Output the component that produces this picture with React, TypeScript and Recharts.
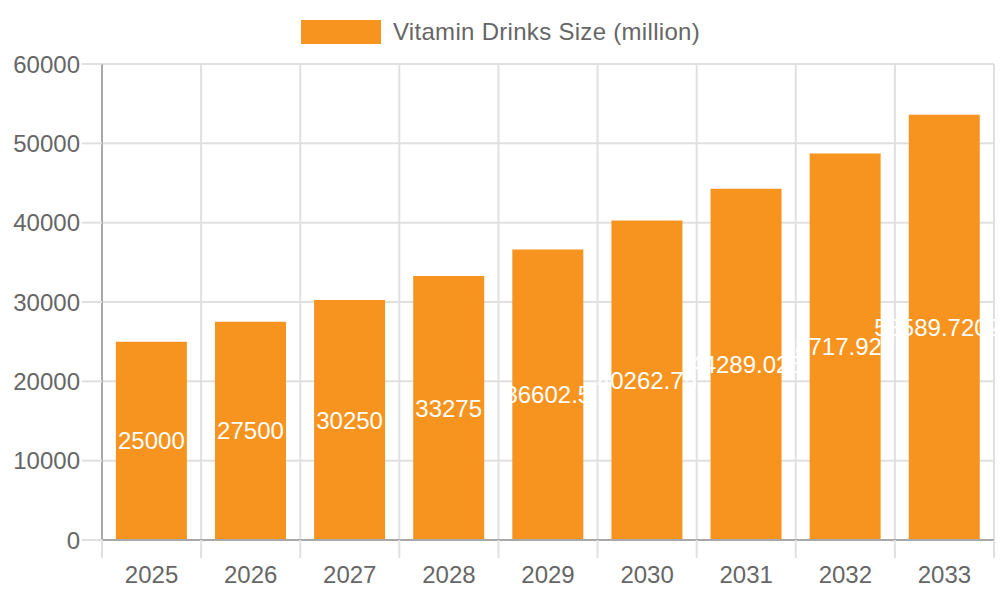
import { BarChart, Bar, XAxis, YAxis, CartesianGrid, LabelList } from "recharts";

const years = ["2025", "2026", "2027", "2028", "2029", "2030", "2031", "2032", "2033"];
const sizes = [25000, 27500, 30250, 33275, 36602.5, 40262.75, 44289.025, 48717.9275, 53589.72025];
const yTicks = [0, 10000, 20000, 30000, 40000, 50000, 60000];

const seriesName = "Vitamin Drinks Size (million)";
const barColour = "#f7941f";
const gridColour = "#e0e0e0";
const axisColour = "#a8a8a8";
const textColour = "#666666";
const font = "'Liberation Sans', Arial, sans-serif";

const chartWidth = 1000;
const chartHeight = 600;
const margin = { top: 64, right: 6, bottom: 0, left: 0 };
const yAxisWidth = 102;
const xAxisHeight = 60;
const plotWidth = chartWidth - margin.left - margin.right - yAxisWidth;
const step = plotWidth / years.length;

const chartData = years.map((year, i) => ({ year, value: sizes[i] }));

const XTick = (props: any) => {
  const { x, y, payload, index, visibleTicksCount } = props;
  const left = x - step / 2;
  const right = x + step / 2;
  return (
    <g>
      <line x1={left} x2={left} y1={y - 18} y2={y} stroke={gridColour} strokeWidth={2} />
      {index === visibleTicksCount - 1 && (
        <line x1={right} x2={right} y1={y - 18} y2={y} stroke={gridColour} strokeWidth={2} />
      )}
      <text x={x} y={y + 16} textAnchor="middle" dominantBaseline="central" fill={textColour} fontSize={24} fontFamily={font}>
        {payload.value}
      </text>
    </g>
  );
};

export default function App() {
  return (
    <div style={{ position: "absolute", left: 0, top: 0, width: chartWidth, height: chartHeight, background: "#fff" }}>
      <div
        style={{
          position: "absolute",
          left: 301,
          top: 20,
          display: "flex",
          alignItems: "center",
          height: 24,
          fontFamily: font,
          fontSize: 24,
          letterSpacing: 0.3,
          color: textColour,
          whiteSpace: "nowrap",
        }}
      >
        <span style={{ display: "inline-block", width: 80, height: 24, background: barColour, marginRight: 12 }} />
        <span>{seriesName}</span>
      </div>
      <BarChart width={chartWidth} height={chartHeight} data={chartData} margin={margin} barCategoryGap="14%">
        <CartesianGrid
          stroke={gridColour}
          strokeWidth={2}
          verticalCoordinatesGenerator={({ offset }: any) =>
            years.map((_, i) => offset.left + i * (offset.width / years.length)).concat([offset.left + offset.width])
          }
        />
        <XAxis
          dataKey="year"
          height={xAxisHeight}
          tickSize={18}
          tickMargin={0}
          tickLine={false}
          axisLine={{ stroke: axisColour, strokeWidth: 2 }}
          tick={<XTick />}
          interval={0}
        />
        <YAxis
          width={yAxisWidth}
          domain={[0, 60000]}
          ticks={yTicks}
          interval={0}
          tickSize={20}
          tickMargin={2}
          tickLine={{ stroke: gridColour, strokeWidth: 2 }}
          axisLine={{ stroke: axisColour, strokeWidth: 2 }}
          tick={{ fill: textColour, fontSize: 24, fontFamily: font }}
        />
        <Bar dataKey="value" name={seriesName} fill={barColour} isAnimationActive={false}>
          <LabelList dataKey="value" position="center" fill="#ffffff" fontSize={24} fontFamily={font} />
        </Bar>
      </BarChart>
    </div>
  );
}
